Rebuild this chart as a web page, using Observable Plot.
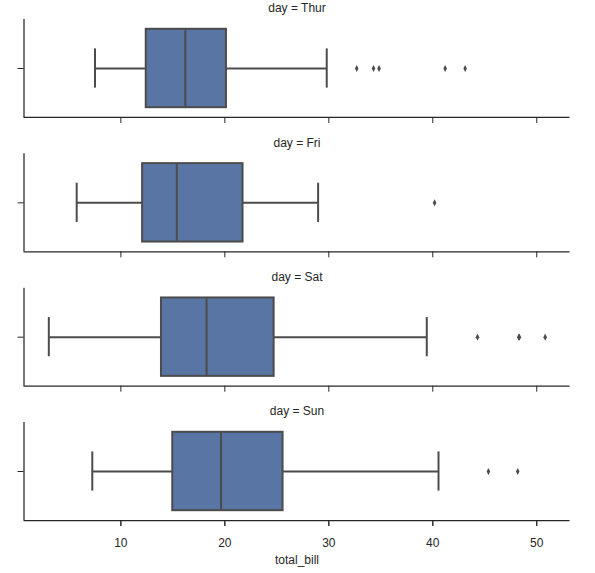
<!DOCTYPE html>
<html><head><meta charset="utf-8">
<script src="https://cdn.jsdelivr.net/npm/d3@7"></script>
<script src="https://cdn.jsdelivr.net/npm/@observablehq/plot@0.6"></script>
<style>body{margin:0;background:#fff;}</style>
</head><body><div id="chart"></div>
<script>
const days = ["Thur", "Fri", "Sat", "Sun"];
const q1 = [12.44, 12.09, 13.905, 14.99];
const median = [16.2, 15.38, 18.24, 19.63];
const q3 = [20.155, 21.75, 24.74, 25.6];
const whiskerLow = [7.51, 5.75, 3.07, 7.25];
const whiskerHigh = [29.8, 28.97, 39.42, 40.55];
const outliers = [
  [32.68, 34.3, 34.83, 41.19, 43.11],
  [40.17],
  [44.3, 48.27, 48.33, 50.81],
  [45.35, 48.17]
];
const xTicks = [10, 20, 30, 40, 50];
const xDomain = [0.683, 53.197];

const boxes = days.map((d, i) => ({day: d, q1: q1[i], med: median[i], q3: q3[i], lo: whiskerLow[i], hi: whiskerHigh[i]}));
const outlierRows = days.flatMap((d, i) => outliers[i].map(v => ({day: d, value: v})));

const thinDiamond = {
  draw(ctx, size) {
    const h = Math.sqrt(size) * 1.0;
    const w = h * 0.5;
    ctx.moveTo(0, -h); ctx.lineTo(w, 0); ctx.lineTo(0, h); ctx.lineTo(-w, 0); ctx.closePath();
  }
};

const gray = "#4c4c4c";
const ink = "#262626";

const chart = Plot.plot({
  width: 595,
  height: 570,
  marginLeft: 23.5,
  marginRight: 25.5,
  marginTop: 19,
  marginBottom: 50,
  style: {fontFamily: "'Liberation Sans', Arial, sans-serif", fontSize: "11px", color: ink, background: "#fff"},
  x: {domain: xDomain},
  y: {domain: [0, 1]},
  fy: {domain: days, axis: null, paddingInner: 0.2705, paddingOuter: 0, round: false},
  marks: [
    Plot.ruleX([xDomain[0]], {stroke: ink, strokeWidth: 1.25}),
    Plot.ruleY([0], {stroke: ink, strokeWidth: 1.25}),
    Plot.axisY({ticks: [0.5], tickFormat: () => "", tickSize: 6, label: null, stroke: ink}),
    Plot.axisX({ticks: xTicks, tickFormat: () => "", tickSize: 6, label: null, facetAnchor: null, stroke: ink}),
    Plot.axisX({ticks: xTicks, tickSize: 6, tickPadding: 12, label: "total_bill", labelAnchor: "center", labelArrow: "none", labelOffset: 43, fontSize: 12, stroke: ink, fill: ink}),
    Plot.text(days, {fy: d => d, text: d => `day = ${d}`, frameAnchor: "top", lineAnchor: "middle", dy: -11, fontSize: 12, fill: ink}),
    Plot.ruleY(boxes, {fy: "day", y: 0.5, x1: "lo", x2: "q1", stroke: gray, strokeWidth: 2}),
    Plot.ruleY(boxes, {fy: "day", y: 0.5, x1: "q3", x2: "hi", stroke: gray, strokeWidth: 2}),
    Plot.ruleX(boxes, {fy: "day", x: "lo", y1: 0.3, y2: 0.7, stroke: gray, strokeWidth: 2}),
    Plot.ruleX(boxes, {fy: "day", x: "hi", y1: 0.3, y2: 0.7, stroke: gray, strokeWidth: 2}),
    Plot.rect(boxes, {fy: "day", x1: "q1", x2: "q3", y1: 0.1, y2: 0.9, fill: "#5875a4", stroke: gray, strokeWidth: 2}),
    Plot.ruleX(boxes, {fy: "day", x: "med", y1: 0.1, y2: 0.9, stroke: gray, strokeWidth: 2}),
    Plot.dot(outlierRows, {fy: "day", x: "value", y: 0.5, symbol: thinDiamond, r: 2, fill: gray, stroke: "none"})
  ]
});
document.getElementById("chart").appendChild(chart);
</script>
</body></html>
